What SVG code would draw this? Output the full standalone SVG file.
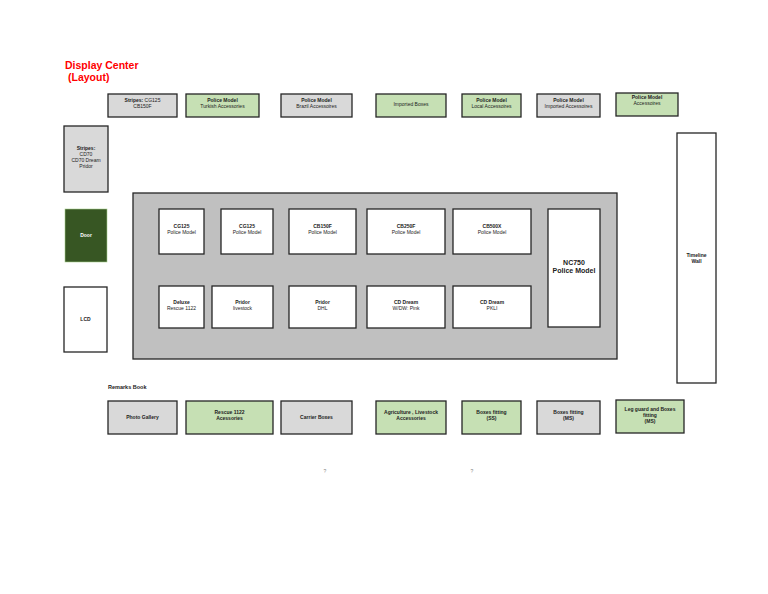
<svg xmlns="http://www.w3.org/2000/svg" width="768" height="594" viewBox="0 0 768 594">
<style>
.b{stroke:#262626;stroke-width:1.3}
.g{fill:#d9d9d9}
.gr{fill:#c6e0b4}
.w{fill:#ffffff}
text{font-family:"Liberation Sans","Noto Sans",sans-serif;font-size:5px;fill:#222;text-anchor:middle}
.h{font-weight:bold}
.t{font-size:10.5px;font-weight:bold;fill:#ff0000;text-anchor:start}
</style>
<rect width="768" height="594" fill="#ffffff"/>
<g id="title">
<text class="t" x="65" y="69">Display Center</text>
<text class="t" x="68" y="81">(Layout)</text>
</g>
<g id="floor"><rect x="133" y="193" width="484" height="166" fill="#c0c0c0" class="b"/></g>
<g id="top-stripes"><rect x="108" y="94" width="69" height="23" class="b g"/><text x="142.5" y="102"><tspan class="h">Stripes:</tspan> CG125</text><text x="142.5" y="108">CB150F</text></g>
<g id="top-turkish"><rect x="186" y="94" width="73" height="23" class="b gr"/><text class="h" x="222.5" y="102">Police Model</text><text x="222.5" y="108">Turkish Accessories</text></g>
<g id="top-brazil"><rect x="281" y="94" width="71" height="23" class="b g"/><text class="h" x="316.5" y="102">Police Model</text><text x="316.5" y="108">Brazil Accessoires</text></g>
<g id="top-imported-boxes"><rect x="376" y="94" width="70" height="23" class="b gr"/><text x="411" y="106">Imported Boxes</text></g>
<g id="top-local"><rect x="462" y="94" width="59" height="23" class="b gr"/><text class="h" x="491.5" y="102">Police Model</text><text x="491.5" y="108">Local Accessoires</text></g>
<g id="top-imported-acc"><rect x="537" y="94" width="63" height="23" class="b g"/><text class="h" x="568.5" y="102">Police Model</text><text x="568.5" y="108">Imported Accessoires</text></g>
<g id="top-accessories"><rect x="616" y="93" width="62" height="23" class="b gr"/><text class="h" x="647" y="99">Police Model</text><text x="647" y="105">Accessoires</text></g>
<g id="left-stripes"><rect x="64" y="126" width="44" height="66" class="b g"/><text class="h" x="86" y="150">Stripes:</text><text x="86" y="156">CD70</text><text x="86" y="162">CD70 Dream</text><text x="86" y="168">Pridor</text></g>
<g id="door"><rect x="65" y="209" width="42" height="53" fill="#375623" stroke="#a9d08e" stroke-width="0.6"/><text class="h" x="86" y="237" style="fill:#ffffff">Door</text></g>
<g id="lcd"><rect x="64" y="287" width="43" height="65" class="b w"/><text class="h" x="85.5" y="321">LCD</text></g>
<g id="cg125a"><rect x="159" y="209" width="45" height="45" class="b w"/><text class="h" x="181.5" y="228">CG125</text><text x="181.5" y="234">Police Model</text></g>
<g id="cg125b"><rect x="221" y="209" width="52" height="45" class="b w"/><text class="h" x="247" y="228">CG125</text><text x="247" y="234">Police Model</text></g>
<g id="cb150f"><rect x="289" y="209" width="67" height="45" class="b w"/><text class="h" x="322.5" y="228">CB150F</text><text x="322.5" y="234">Police Model</text></g>
<g id="cb250f"><rect x="367" y="209" width="78" height="45" class="b w"/><text class="h" x="406" y="228">CB250F</text><text x="406" y="234">Police Model</text></g>
<g id="cb500x"><rect x="453" y="209" width="78" height="45" class="b w"/><text class="h" x="492" y="228">CB500X</text><text x="492" y="234">Police Model</text></g>
<g id="nc750"><rect x="548" y="209" width="52" height="118" class="b w"/><text class="h" x="574" y="265" style="font-size:7px">NC750</text><text class="h" x="574" y="273" style="font-size:7px">Police Model</text></g>
<g id="deluxe"><rect x="159" y="286" width="45" height="42" class="b w"/><text class="h" x="181.5" y="304">Deluxe</text><text x="181.5" y="310">Rescue 1122</text></g>
<g id="pridor-livestock"><rect x="212" y="286" width="61" height="42" class="b w"/><text class="h" x="242.5" y="304">Pridor</text><text x="242.5" y="310">livestock</text></g>
<g id="pridor-dhl"><rect x="289" y="286" width="67" height="42" class="b w"/><text class="h" x="322.5" y="304">Pridor</text><text x="322.5" y="310">DHL</text></g>
<g id="cd-dream-pink"><rect x="367" y="286" width="78" height="42" class="b w"/><text class="h" x="406" y="304">CD Dream</text><text x="406" y="310">W/DW: Pink</text></g>
<g id="cd-dream-pkli"><rect x="453" y="286" width="78" height="42" class="b w"/><text class="h" x="492" y="304">CD Dream</text><text x="492" y="310">PKLI</text></g>
<g id="timeline"><rect x="677" y="133" width="39" height="250" class="b w"/><text class="h" x="696.5" y="257">Timeline</text><text class="h" x="696.5" y="263">Wall</text></g>
<g id="remarks"><text class="h" x="108" y="389" style="text-anchor:start;font-size:5.5px">Remarks Book</text></g>
<g id="photo-gallery"><rect x="108" y="401" width="69" height="33" class="b g"/><text class="h" x="142.5" y="419">Photo Gallery</text></g>
<g id="rescue-acc"><rect x="186" y="401" width="87" height="33" class="b gr"/><text class="h" x="229.5" y="414">Rescue 1122</text><text class="h" x="229.5" y="420">Acessories</text></g>
<g id="carrier-boxes"><rect x="281" y="401" width="71" height="33" class="b g"/><text class="h" x="316.5" y="419">Carrier Boxes</text></g>
<g id="agriculture"><rect x="376" y="401" width="70" height="33" class="b gr"/><text class="h" x="411" y="414">Agriculture , Livestock</text><text class="h" x="411" y="420">Accessories</text></g>
<g id="boxes-ss"><rect x="462" y="401" width="59" height="33" class="b gr"/><text class="h" x="491.5" y="414">Boxes fitting</text><text class="h" x="491.5" y="420">(SS)</text></g>
<g id="boxes-ms"><rect x="537" y="401" width="63" height="33" class="b g"/><text class="h" x="568.5" y="414">Boxes fitting</text><text class="h" x="568.5" y="420">(MS)</text></g>
<g id="leg-guard"><rect x="616" y="400" width="68" height="33" class="b gr"/><text class="h" x="650" y="411">Leg guard and Boxes</text><text class="h" x="650" y="417">fitting</text><text class="h" x="650" y="423">(MS)</text></g>
<g id="marks"><text x="325" y="473" style="fill:#888;font-size:5px">?</text><text x="472" y="473" style="fill:#888;font-size:5px">?</text></g>
<g id="connectors"></g>
</svg>
